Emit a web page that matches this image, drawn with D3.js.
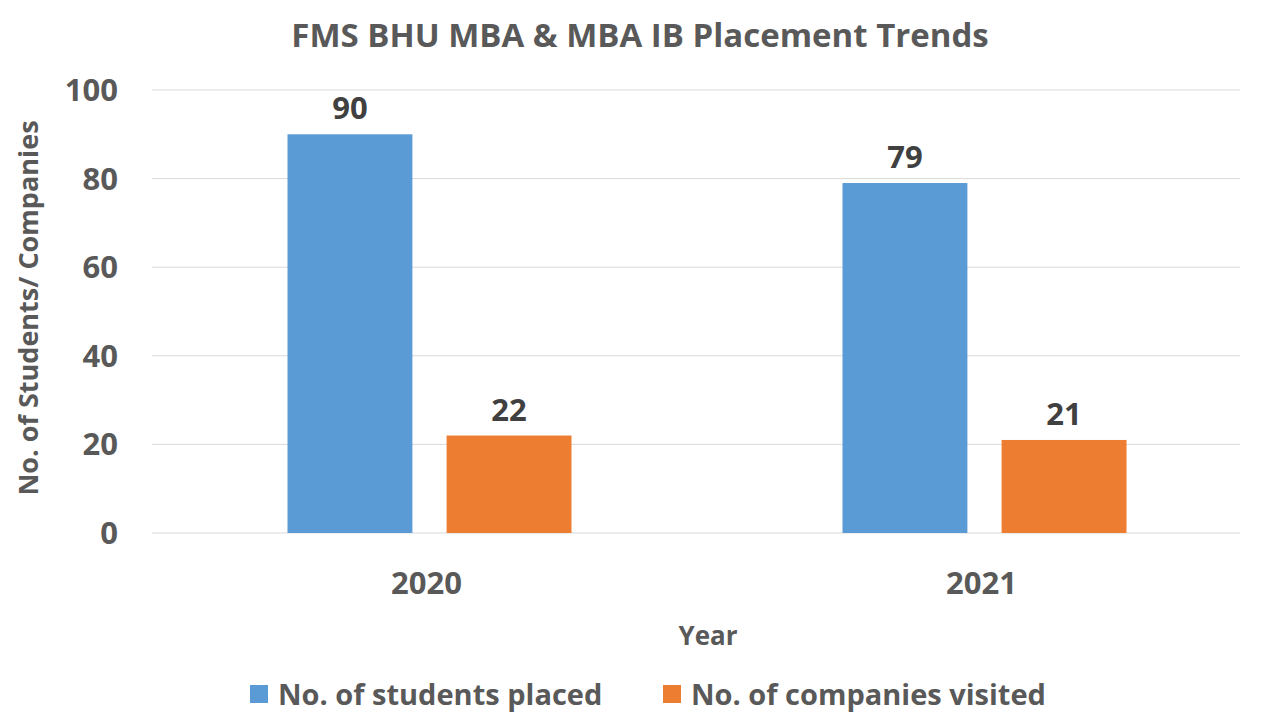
<!DOCTYPE html>
<html>
<head>
<meta charset="utf-8">
<script src="https://cdn.jsdelivr.net/npm/d3@7"></script>
<style>
  body { margin: 0; background: #fff; }
  text { font-family: "Open Sans", sans-serif; font-weight: bold; }
</style>
</head>
<body>
<svg id="chart" width="1280" height="720"></svg>
<script>
// chart data
var years = ['2020', '2021'];
var seriesNames = ['No. of students placed', 'No. of companies visited'];
var studentsPlaced = [90, 79];
var companiesVisited = [22, 21];
var yTicks = [0, 20, 40, 60, 80, 100];
var colors = ['#5b9bd5', '#ed7d31'];

var svg = d3.select('#chart');
var plotLeft = 152, plotRight = 1262, plotTop = 90, plotBottom = 533;

var x = d3.scaleBand().domain(years).range([plotLeft, plotRight]);
var xInner = d3.scaleBand().domain([0, 1]).range([0, 284]).paddingInner(0.215);
var y = d3.scaleLinear().domain([0, 100]).range([plotBottom, plotTop]);

// gridlines
svg.append('g').selectAll('line').data(yTicks).join('line')
  .attr('x1', plotLeft).attr('x2', 1240)
  .attr('y1', d => y(d)).attr('y2', d => y(d))
  .attr('stroke', '#d9d9d9').attr('stroke-width', 1);

// y tick labels
svg.append('g').selectAll('text').data(yTicks).join('text')
  .attr('x', 118).attr('y', d => y(d) + 11)
  .attr('text-anchor', 'end').attr('font-size', 31).attr('fill', '#595959')
  .text(d => d);

// bars
var series = [studentsPlaced, companiesVisited];
series.forEach(function (vals, s) {
  var g = svg.append('g');
  g.selectAll('rect').data(years).join('rect')
    .attr('x', d => x(d) + x.bandwidth() / 2 - 142 + xInner(s))
    .attr('width', xInner.bandwidth())
    .attr('y', (d, i) => y(vals[i]))
    .attr('height', (d, i) => plotBottom - y(vals[i]))
    .attr('fill', colors[s]);
  g.selectAll('text').data(years).join('text')
    .attr('x', d => x(d) + x.bandwidth() / 2 - 142 + xInner(s) + xInner.bandwidth() / 2)
    .attr('y', (d, i) => y(vals[i]) - 15)
    .attr('text-anchor', 'middle').attr('font-size', 31).attr('fill', '#404040')
    .text((d, i) => vals[i]);
});

// x category labels
svg.append('g').selectAll('text').data(years).join('text')
  .attr('x', d => x(d) + x.bandwidth() / 2 - 3).attr('y', 594)
  .attr('text-anchor', 'middle').attr('font-size', 31).attr('fill', '#595959')
  .text(d => d);

// title and axis titles
svg.append('text').attr('x', 640).attr('y', 47).attr('text-anchor', 'middle')
  .attr('font-size', 33).attr('fill', '#595959').text('FMS BHU MBA & MBA IB Placement Trends');
svg.append('text').attr('x', 708).attr('y', 645).attr('text-anchor', 'middle')
  .attr('font-size', 26).attr('fill', '#595959').text('Year');
svg.append('text').attr('transform', 'translate(38,308) rotate(-90)').attr('text-anchor', 'middle')
  .attr('font-size', 27).attr('fill', '#595959').text('No. of Students/ Companies');

// legend
var legendX = [250, 663];
seriesNames.forEach(function (name, i) {
  svg.append('rect').attr('x', legendX[i]).attr('y', 685).attr('width', 18).attr('height', 18)
    .attr('fill', colors[i]);
  svg.append('text').attr('x', legendX[i] + 28).attr('y', 705)
    .attr('font-size', 29).attr('fill', '#595959').text(name);
});
</script>
</body>
</html>
